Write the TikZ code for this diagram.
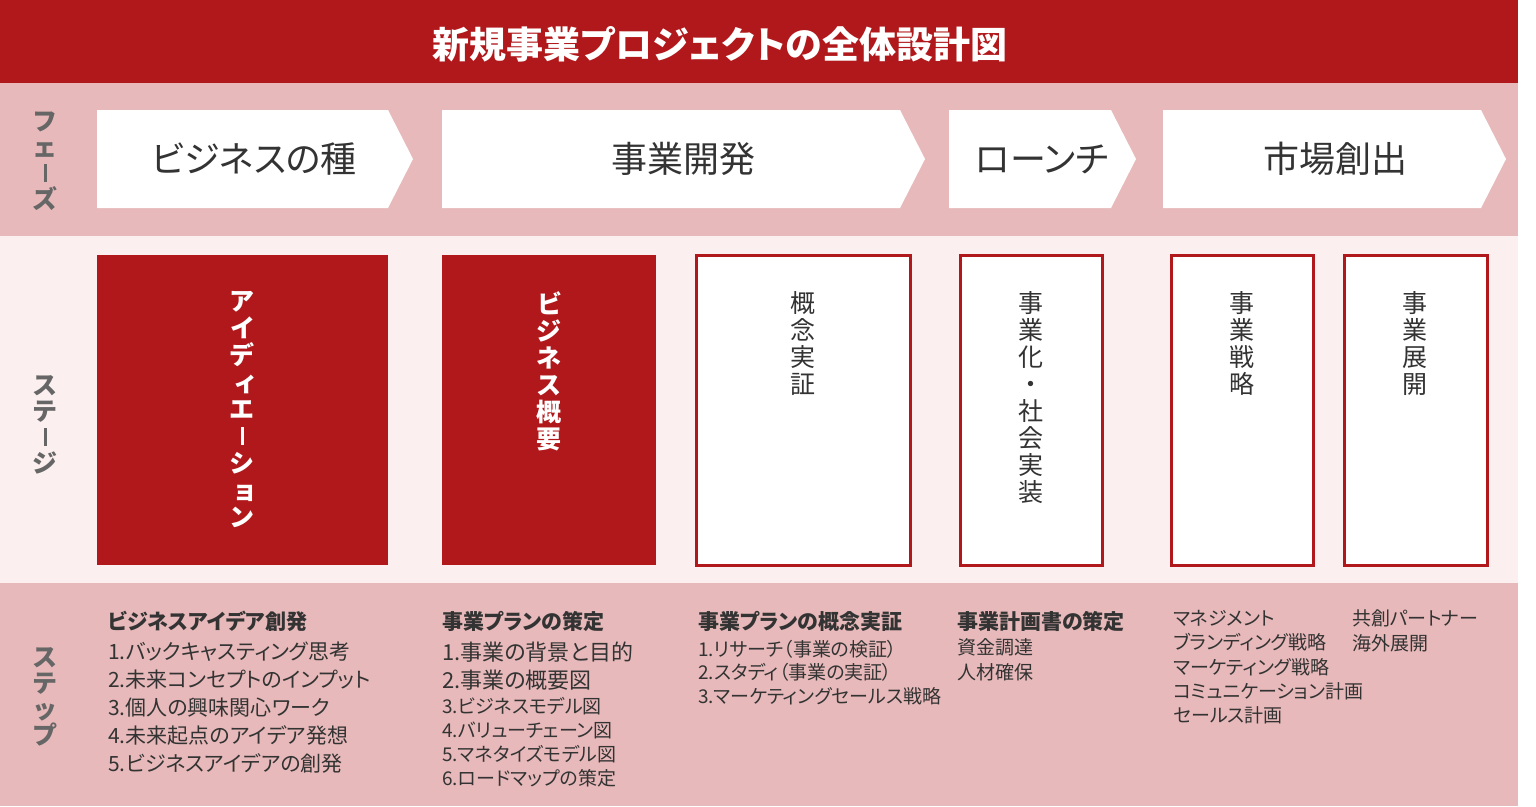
\documentclass[tikz,border=0pt]{standalone}
\usepackage{fontspec}
\setmainfont{Noto Sans CJK JP}[CharacterWidth=AlternateProportional]
\usepackage{graphicx}
\usetikzlibrary{positioning}

\definecolor{titlered}{HTML}{B1181B}
\definecolor{bandpink}{HTML}{E8B9BA}
\definecolor{bandlight}{HTML}{FCEFEF}
\definecolor{inkgray}{HTML}{333333}
\definecolor{sidegray}{HTML}{666666}

\newcommand{\vbar}[1][0.07em]{\rule[0.03em]{#1}{0.72em}}
\newcommand{\smallkana}[1]{\hspace*{0.2em}#1}

\tikzset{
  titletext/.style={font=\fontsize{37}{40}\selectfont\bfseries, text=white},
  sidelabel/.style={font=\fontsize{25}{26}\selectfont\bfseries, text=sidegray, align=center, inner sep=0},
  phasetext/.style={font=\fontsize{36}{40}\selectfont, text=inkgray},
  stagebox/.style={draw=titlered, line width=3pt, fill=white},
  vtext/.style={font=\fontsize{25}{27}\selectfont, text=inkgray, align=center, anchor=north, inner sep=0},
  vtextbold/.style={vtext, font=\fontsize{25}{27}\selectfont\bfseries, text=white},
  stephead/.style={font=\fontsize{21}{28}\selectfont\bfseries, text=inkgray, anchor=north west, inner sep=0},
  steplist/.style={text=inkgray, align=left, anchor=north west, inner sep=0}
}

\begin{document}
\begin{tikzpicture}[x=1pt, y=-1pt]
  \useasboundingbox (0,0) rectangle (1536,806);
  \def\ptop{110}
  \def\pbot{208}
  \def\pmid{159}
  \def\stop{255}
  \def\sbot{565}

  % bands
  \fill[titlered] (0,0) rectangle (1518,83);
  \fill[bandpink] (0,83) rectangle (1518,236);
  \fill[bandlight] (0,236) rectangle (1518,583);
  \fill[bandpink] (0,583) rectangle (1518,806);

  \node[titletext] (title) at (720,44) {新規事業プロジェクトの全体設計図};

  % left labels
  \node[sidelabel] (lphase) at (45,161) {フ\\ェ\\\vbar[0.12em]\\ズ};
  \node[sidelabel] (lstage) at (45,425) {ス\\テ\\\vbar[0.12em]\\ジ};
  \node[sidelabel] (lstep) at (45,697) {ス\\テ\\ッ\\プ};

  % phases
  \fill[white] (97,\ptop) -- (388,\ptop) -- (413,\pmid) -- (388,\pbot) -- (97,\pbot) -- cycle;
  \fill[white] (442,\ptop) -- (900,\ptop) -- (925,\pmid) -- (900,\pbot) -- (442,\pbot) -- cycle;
  \fill[white] (949,\ptop) -- (1111,\ptop) -- (1136,\pmid) -- (1111,\pbot) -- (949,\pbot) -- cycle;
  \fill[white] (1163,\ptop) -- (1481,\ptop) -- (1506,\pmid) -- (1481,\pbot) -- (1163,\pbot) -- cycle;
  \node[phasetext] (seed) at (254,\pmid) {ビジネスの種};
  \node[phasetext] (dev) at (683,\pmid) {事業開発};
  \node[phasetext] (launch) at (1042,\pmid) {ローンチ};
  \node[phasetext] (market) at (1335,\pmid) {市場創出};

  % stages
  \fill[titlered] (97,\stop) rectangle (388,\sbot);
  \fill[titlered] (442,\stop) rectangle (656,\sbot);
  \draw[stagebox] (696,\stop) rectangle (910,\sbot);
  \draw[stagebox] (960,\stop) rectangle (1102,\sbot);
  \draw[stagebox] (1171,\stop) rectangle (1313,\sbot);
  \draw[stagebox] (1344,\stop) rectangle (1487,\sbot);
  \node[vtextbold] (idea) at (242,291) {ア\\イ\\デ\\\smallkana{ィ}\\エ\\\vbar[0.12em]\\シ\\\smallkana{ョ}\\ン};
  \node[vtextbold] (outline) at (549,291) {ビ\\ジ\\ネ\\ス\\概\\要};
  \node[vtext] (poc) at (803,291) {概\\念\\実\\証};
  \node[vtext] (impl) at (1031,291) {事\\業\\化\\・\\社\\会\\実\\装};
  \node[vtext] (strat) at (1242,291) {事\\業\\戦\\略};
  \node[vtext] (expand) at (1415,291) {事\\業\\展\\開};

  % steps
  \node[stephead] (h1) at (108,611) {ビジネスアイデア創発};
  \node[steplist, font=\fontsize{21}{28}\selectfont] (l1) at (108,642)
    {1.バックキャスティング思考\\2.未来コンセプトのインプット\\3.個人の興味関心ワーク\\4.未来起点のアイデア発想\\5.ビジネスアイデアの創発};

  \node[stephead] (h2) at (442,611) {事業プランの策定};
  \node[steplist, font=\fontsize{22}{28}\selectfont] (l2a) at (442,642)
    {1.事業の背景と目的\\2.事業の概要図};
  \node[steplist, font=\fontsize{19}{24}\selectfont] (l2b) at (442,697)
    {3.ビジネスモデル図\\4.バリューチェーン図\\5.マネタイズモデル図\\6.ロードマップの策定};

  \node[stephead] (h3) at (698,611) {事業プランの概念実証};
  \node[steplist, font=\fontsize{19}{23.5}\selectfont] (l3) at (698,640)
    {1.リサーチ（事業の検証）\\2.スタディ（事業の実証）\\3.マーケティングセールス戦略};

  \node[stephead] (h4) at (957,611) {事業計画書の策定};
  \node[steplist, font=\fontsize{19}{25}\selectfont] (l4) at (957,638)
    {資金調達\\人材確保};

  \node[steplist, font=\fontsize{19}{24.3}\selectfont] (l5) at (1173,610)
    {マネジメント\\ブランディング戦略\\マーケティング戦略\\コミュニケーション計画\\セールス計画};

  \node[steplist, font=\fontsize{19}{24.3}\selectfont] (l6) at (1352,610)
    {共創パートナー\\海外展開};
\end{tikzpicture}
\end{document}
